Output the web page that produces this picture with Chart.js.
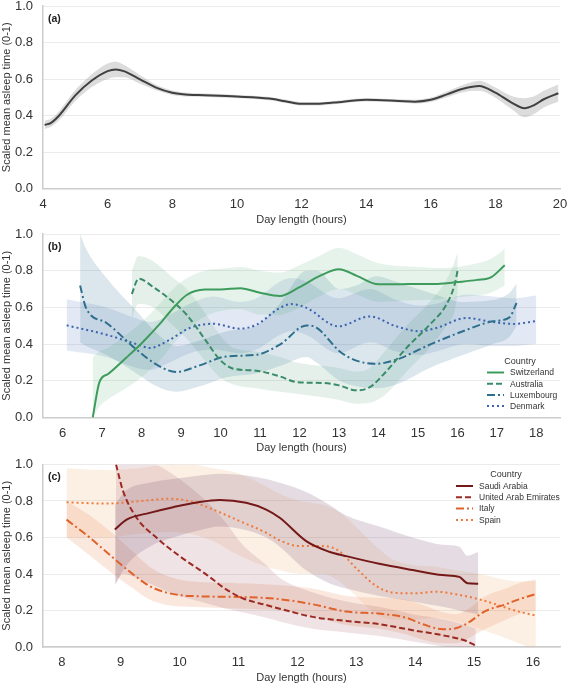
<html>
  <head>
    <script src="https://cdn.jsdelivr.net/npm/chart.js@4.4.0/dist/chart.umd.min.js"></script>
    <style>
      body { margin: 0; width: 569px; height: 685px; position: relative; background: #fff; overflow: hidden; }
      canvas { position: absolute; left: 0; display: block; }
    </style>
  </head>
  <body>
    <canvas id="chartA" width="569" height="228" style="top:0px"></canvas>
    <canvas id="chartB" width="569" height="227" style="top:228px"></canvas>
    <canvas id="chartC" width="569" height="230" style="top:455px"></canvas>

    <script>
      // ---- panel (a): all countries
      const aX = [4.05, 4.25, 4.5, 5, 5.5, 6, 6.25, 6.5, 7, 7.5, 8, 8.5, 9, 10, 11, 11.5, 12, 12.5, 13, 14, 15, 15.5, 16, 16.5, 17, 17.5, 18, 18.5, 18.9, 19.2, 19.5, 19.95];
      const aMean = [0.348, 0.36, 0.40, 0.51, 0.59, 0.643, 0.652, 0.643, 0.598, 0.553, 0.525, 0.514, 0.511, 0.504, 0.493, 0.478, 0.464, 0.464, 0.471, 0.486, 0.48, 0.476, 0.486, 0.516, 0.547, 0.562, 0.525, 0.471, 0.44, 0.457, 0.489, 0.522];
      const aLow = [0.326, 0.338, 0.375, 0.48, 0.555, 0.60, 0.61, 0.61, 0.575, 0.538, 0.513, 0.504, 0.502, 0.495, 0.484, 0.469, 0.455, 0.455, 0.462, 0.477, 0.471, 0.466, 0.474, 0.5, 0.527, 0.535, 0.497, 0.435, 0.39, 0.408, 0.444, 0.475];
      const aHigh = [0.371, 0.382, 0.425, 0.54, 0.625, 0.685, 0.695, 0.678, 0.622, 0.568, 0.537, 0.524, 0.52, 0.513, 0.502, 0.487, 0.473, 0.473, 0.48, 0.495, 0.489, 0.486, 0.498, 0.532, 0.567, 0.59, 0.553, 0.507, 0.495, 0.505, 0.535, 0.57];
      const aTicks = [4, 6, 8, 10, 12, 14, 16, 18, 20];

      // ---- panel (b)
      const swissX = [6.76, 6.93, 7.15, 7.6, 8.0, 8.5, 8.8, 9.15, 9.6, 10.0, 10.5, 11.0, 11.5, 12.0, 12.5, 13.0, 13.45, 14.0, 14.5, 15.0, 15.5, 16.0, 16.5, 16.85, 17.2];
      const swissY = [0.0, 0.193, 0.237, 0.324, 0.405, 0.52, 0.597, 0.669, 0.697, 0.698, 0.705, 0.68, 0.662, 0.71, 0.77, 0.808, 0.772, 0.726, 0.726, 0.728, 0.728, 0.738, 0.75, 0.764, 0.83];
      const swissLo = [0.0, 0.06, 0.1, 0.16, 0.22, 0.32, 0.4, 0.48, 0.55, 0.58, 0.59, 0.56, 0.56, 0.6, 0.66, 0.7, 0.67, 0.63, 0.635, 0.64, 0.645, 0.655, 0.665, 0.68, 0.72];
      const swissHi = [0.33, 0.36, 0.38, 0.45, 0.52, 0.63, 0.7, 0.76, 0.8, 0.81, 0.82, 0.8, 0.79, 0.83, 0.88, 0.925, 0.89, 0.84, 0.825, 0.82, 0.815, 0.82, 0.84, 0.865, 0.92];

      const ausX = [7.75, 7.92, 8.3, 8.8, 9.14, 9.64, 9.98, 10.32, 10.9, 11.5, 11.92, 12.6, 13.0, 13.44, 13.78, 14.2, 14.71, 15.3, 15.72, 15.93, 16.01];
      const ausY = [0.673, 0.756, 0.71, 0.629, 0.56, 0.415, 0.315, 0.266, 0.255, 0.224, 0.193, 0.188, 0.175, 0.148, 0.165, 0.252, 0.379, 0.506, 0.615, 0.724, 0.806];
      const ausLo = [0.54, 0.62, 0.6, 0.5, 0.43, 0.3, 0.22, 0.18, 0.16, 0.14, 0.13, 0.11, 0.095, 0.075, 0.08, 0.13, 0.25, 0.38, 0.5, 0.58, 0.68];
      const ausHi = [0.8, 0.88, 0.85, 0.76, 0.7, 0.56, 0.45, 0.38, 0.36, 0.33, 0.3, 0.28, 0.27, 0.25, 0.27, 0.37, 0.5, 0.63, 0.75, 0.85, 0.9];

      const luxX = [6.44, 6.59, 7.11, 7.87, 8.38, 8.88, 9.47, 10.15, 10.91, 11.5, 12.18, 12.43, 13.02, 13.44, 13.95, 14.45, 15.3, 16.14, 16.9, 17.32, 17.5];
      const luxY = [0.72, 0.597, 0.515, 0.37, 0.288, 0.248, 0.284, 0.333, 0.342, 0.397, 0.502, 0.49, 0.36, 0.31, 0.293, 0.315, 0.397, 0.47, 0.524, 0.546, 0.624];
      const luxLo = [0.41, 0.39, 0.34, 0.24, 0.17, 0.14, 0.17, 0.22, 0.24, 0.28, 0.33, 0.3, 0.2, 0.17, 0.16, 0.18, 0.27, 0.34, 0.4, 0.44, 0.5];
      const luxHi = [1.0, 0.92, 0.76, 0.58, 0.46, 0.39, 0.42, 0.47, 0.5, 0.62, 0.8, 0.8, 0.7, 0.72, 0.77, 0.74, 0.68, 0.63, 0.64, 0.68, 0.73];

      const denX = [6.1, 7.11, 7.87, 8.21, 8.71, 9.22, 9.81, 10.49, 10.91, 11.5, 11.8, 12.18, 12.98, 13.78, 14.45, 15.04, 15.47, 16.23, 16.9, 17.41, 18.0];
      const denY = [0.502, 0.451, 0.4, 0.379, 0.424, 0.488, 0.511, 0.484, 0.506, 0.597, 0.618, 0.597, 0.497, 0.551, 0.497, 0.47, 0.488, 0.542, 0.52, 0.51, 0.525];
      const denLo = [0.365, 0.33, 0.27, 0.26, 0.3, 0.35, 0.37, 0.35, 0.37, 0.45, 0.47, 0.45, 0.35, 0.41, 0.36, 0.34, 0.36, 0.4, 0.39, 0.39, 0.4];
      const denHi = [0.645, 0.6, 0.54, 0.52, 0.56, 0.62, 0.66, 0.63, 0.65, 0.74, 0.76, 0.74, 0.65, 0.7, 0.64, 0.61, 0.62, 0.67, 0.66, 0.65, 0.665];
      const bTicks = [6, 7, 8, 9, 10, 11, 12, 13, 14, 15, 16, 17, 18];

      // ---- panel (c)
      const saX = [8.9, 9.1, 9.49, 9.89, 10.34, 10.68, 11.13, 11.47, 11.7, 12.15, 12.54, 12.83, 13.39, 13.96, 14.47, 14.75, 14.89, 15.07];
      const saY = [0.644, 0.698, 0.735, 0.766, 0.795, 0.806, 0.79, 0.753, 0.708, 0.58, 0.522, 0.498, 0.456, 0.422, 0.394, 0.384, 0.349, 0.347];
      const saLo = [0.34, 0.45, 0.55, 0.6, 0.64, 0.66, 0.64, 0.6, 0.55, 0.42, 0.35, 0.32, 0.28, 0.25, 0.22, 0.2, 0.19, 0.18];
      const saHi = [0.78, 0.86, 0.9, 0.92, 0.94, 0.95, 0.94, 0.92, 0.9, 0.85, 0.78, 0.72, 0.66, 0.6, 0.56, 0.55, 0.5, 0.52];

      const uaeX = [8.92, 9.04, 9.27, 9.61, 10.0, 10.45, 10.79, 11.07, 11.47, 11.7, 12.26, 12.83, 13.39, 13.96, 14.52, 14.86, 15.03];
      const uaeY = [1.0, 0.854, 0.708, 0.598, 0.498, 0.398, 0.316, 0.267, 0.23, 0.21, 0.165, 0.143, 0.125, 0.092, 0.061, 0.034, 0.007];
      const uaeLo = [0.35, 0.4, 0.38, 0.33, 0.28, 0.24, 0.21, 0.19, 0.16, 0.14, 0.1, 0.08, 0.06, 0.03, 0.0, -0.02, -0.03];
      const uaeHi = [1.05, 1.05, 1.05, 1.0, 0.92, 0.8, 0.68, 0.56, 0.45, 0.38, 0.3, 0.25, 0.22, 0.18, 0.15, 0.12, 0.1];

      const itX = [8.08, 8.48, 8.87, 9.21, 9.49, 9.78, 10.17, 11.02, 11.7, 12.26, 12.83, 13.39, 13.84, 14.13, 14.47, 14.69, 14.86, 15.2, 15.54, 15.76, 16.05];
      const itY = [0.698, 0.598, 0.489, 0.398, 0.334, 0.298, 0.28, 0.274, 0.262, 0.234, 0.194, 0.183, 0.161, 0.125, 0.097, 0.103, 0.125, 0.198, 0.234, 0.261, 0.29];
      const itLo = [0.6, 0.5, 0.4, 0.32, 0.26, 0.23, 0.22, 0.21, 0.2, 0.17, 0.12, 0.1, 0.07, 0.04, 0.02, 0.02, 0.04, 0.1, 0.15, 0.18, 0.2];
      const itHi = [0.8, 0.72, 0.62, 0.52, 0.44, 0.39, 0.36, 0.35, 0.34, 0.32, 0.28, 0.27, 0.26, 0.23, 0.19, 0.18, 0.2, 0.28, 0.32, 0.35, 0.37];

      const spX = [8.08, 8.76, 9.32, 9.83, 10.17, 10.57, 11.02, 11.47, 11.7, 12.04, 12.43, 12.71, 12.99, 13.34, 13.62, 13.96, 14.35, 14.69, 15.09, 15.76, 16.05];
      const spY = [0.793, 0.786, 0.799, 0.813, 0.799, 0.753, 0.69, 0.626, 0.584, 0.553, 0.553, 0.526, 0.434, 0.334, 0.298, 0.294, 0.303, 0.289, 0.261, 0.194, 0.172];
      const spLo = [0.6, 0.6, 0.62, 0.63, 0.62, 0.58, 0.5, 0.44, 0.42, 0.4, 0.4, 0.36, 0.28, 0.18, 0.15, 0.15, 0.16, 0.14, 0.1, 0.02, -0.02];
      const spHi = [0.98, 0.97, 0.98, 1.0, 1.0, 0.98, 0.95, 0.88, 0.84, 0.8, 0.78, 0.74, 0.66, 0.55, 0.48, 0.45, 0.44, 0.42, 0.4, 0.36, 0.36];
      const cTicks = [8, 9, 10, 11, 12, 13, 14, 15, 16];

      const yTicks = [0, 0.2, 0.4, 0.6, 0.8, 1.0];

      const FONT = '"Liberation Sans", Arial, sans-serif';
      const TEXT = "#333333";
      Chart.defaults.font.family = FONT;

      const pts = (xs, ys) => xs.map((x, i) => ({ x: x, y: ys[i] }));

      // line + its band (upper filled down to lower)
      function series(label, xs, ys, lo, hi, color, band, dash) {
        return [
          {
            label: label, data: pts(xs, ys), borderColor: color, borderWidth: 2,
            borderDash: dash || [], pointRadius: 0, fill: false, order: 0,
            cubicInterpolationMode: "monotone", inLegend: true,
          },
          {
            data: pts(xs, hi), borderWidth: 0, pointRadius: 0, backgroundColor: band,
            fill: "+1", order: 1, cubicInterpolationMode: "monotone",
          },
          {
            data: pts(xs, lo), borderWidth: 0, pointRadius: 0, fill: false, order: 1,
            cubicInterpolationMode: "monotone",
          },
        ];
      }

      const panelTag = {
        id: "panelTag",
        afterDraw(chart, args, opts) {
          if (!opts.text) return;
          const ctx = chart.ctx;
          ctx.save();
          ctx.font = "bold 10.5px " + FONT;
          ctx.fillStyle = "#222";
          ctx.textBaseline = "middle";
          ctx.fillText(opts.text, chart.chartArea.left + 5, chart.chartArea.top + 13);
          ctx.restore();
        },
      };

      const boxLegend = {
        id: "boxLegend",
        afterDraw(chart, args, opts) {
          if (!opts.title) return;
          const ctx = chart.ctx;
          ctx.save();
          ctx.fillStyle = TEXT;
          ctx.textBaseline = "middle";
          ctx.textAlign = "center";
          ctx.font = "9px " + FONT;
          ctx.fillText(opts.title, opts.titleX, opts.y);
          ctx.textAlign = "left";
          ctx.font = "8.5px " + FONT;
          const items = chart.data.datasets.filter((d) => d.inLegend);
          items.forEach((d, i) => {
            const y = opts.y + (i + 1) * opts.rowH;
            ctx.strokeStyle = d.borderColor;
            ctx.lineWidth = 2;
            ctx.setLineDash(d.borderDash);
            ctx.beginPath();
            ctx.moveTo(opts.x, y);
            ctx.lineTo(opts.x + 17, y);
            ctx.stroke();
            ctx.setLineDash([]);
            ctx.fillText(d.label, opts.x + 23, y + 0.5);
          });
          ctx.restore();
        },
      };

      function makeChart(id, datasets, o) {
        return new Chart(document.getElementById(id), {
          type: "line",
          data: { datasets: datasets },
          plugins: [panelTag, boxLegend],
          options: {
            responsive: false,
            animation: false,
            layout: { padding: { top: o.top, right: 9, bottom: 0, left: 0 } },
            scales: {
              x: {
                type: "linear",
                min: o.min,
                max: o.max,
                afterBuildTicks: (s) => { s.ticks = o.ticks.map((v) => ({ value: v })); },
                afterFit: (s) => { s.height = o.xh; s.paddingLeft = 0; s.paddingRight = 0; },
                ticks: { color: TEXT, font: { size: 13 }, padding: 8, maxRotation: 0, autoSkip: false },
                grid: { display: false, drawTicks: false },
                border: { color: "#cccccc", width: 1.5 },
                title: {
                  display: true, text: "Day length (hours)", color: TEXT,
                  font: { size: 11 }, padding: { top: 0, bottom: o.tb },
                },
              },
              y: {
                min: 0,
                max: 1,
                afterBuildTicks: (s) => { s.ticks = yTicks.map((v) => ({ value: v })); },
                afterFit: (s) => { s.width = 43; s.paddingTop = 0; s.paddingBottom = 0; },
                ticks: { color: TEXT, font: { size: 13 }, padding: 10, callback: (v) => v.toFixed(1) },
                grid: { color: "#ebebeb", lineWidth: 1, drawTicks: false },
                border: { color: "#cccccc", width: 1.5 },
                title: {
                  display: true, text: "Scaled mean asleep time (0-1)", color: TEXT,
                  font: { size: 11 }, padding: { top: 0.5, bottom: 0 },
                },
              },
            },
            plugins: {
              legend: { display: false },
              tooltip: { enabled: false },
              panelTag: { text: o.tag },
              boxLegend: o.legend || {},
            },
          },
        });
      }

      makeChart(
        "chartA",
        series("All", aX, aMean, aLow, aHigh, "#404040", "rgba(140,140,140,0.3)"),
        { top: 6, min: 4, max: 20, ticks: aTicks, xh: 39.5, tb: 1.5, tag: "(a)" }
      );

      makeChart(
        "chartB",
        [
          ...series("Switzerland", swissX, swissY, swissLo, swissHi, "#3d9b5c", "rgba(80,170,110,0.14)"),
          ...series("Australia", ausX, ausY, ausLo, ausHi, "#3a8c69", "rgba(70,150,115,0.14)", [6, 3]),
          ...series("Luxembourg", luxX, luxY, luxLo, luxHi, "#2f6f8e", "rgba(50,110,150,0.17)", [8, 3, 2, 3]),
          ...series("Denmark", denX, denY, denLo, denHi, "#3b63b0", "rgba(70,110,180,0.15)", [2, 3]),
        ],
        {
          top: 6, min: 5.5, max: 18.6, ticks: bTicks, xh: 37.5, tb: 0.5, tag: "(b)",
          legend: { title: "Country", titleX: 520, x: 487, y: 133.3, rowH: 11.2 },
        }
      );

      makeChart(
        "chartC",
        [
          ...series("Saudi Arabia", saX, saY, saLo, saHi, "#741818", "rgba(120,80,110,0.2)"),
          ...series("United Arab Emirates", uaeX, uaeY, uaeLo, uaeHi, "#9b2a22", "rgba(150,70,80,0.15)", [6, 3]),
          ...series("Italy", itX, itY, itLo, itHi, "#e0622a", "rgba(230,130,70,0.18)", [8, 3, 2, 3]),
          ...series("Spain", spX, spY, spLo, spHi, "#ef7a3a", "rgba(240,170,110,0.18)", [2, 3]),
        ],
        {
          top: 9.5, min: 7.68, max: 16.46, ticks: cTicks, xh: 38, tb: 0.5, tag: "(c)",
          legend: { title: "Country", titleX: 506, x: 456, y: 19.7, rowH: 11.3 },
        }
      );
    </script>
  </body>
</html>
